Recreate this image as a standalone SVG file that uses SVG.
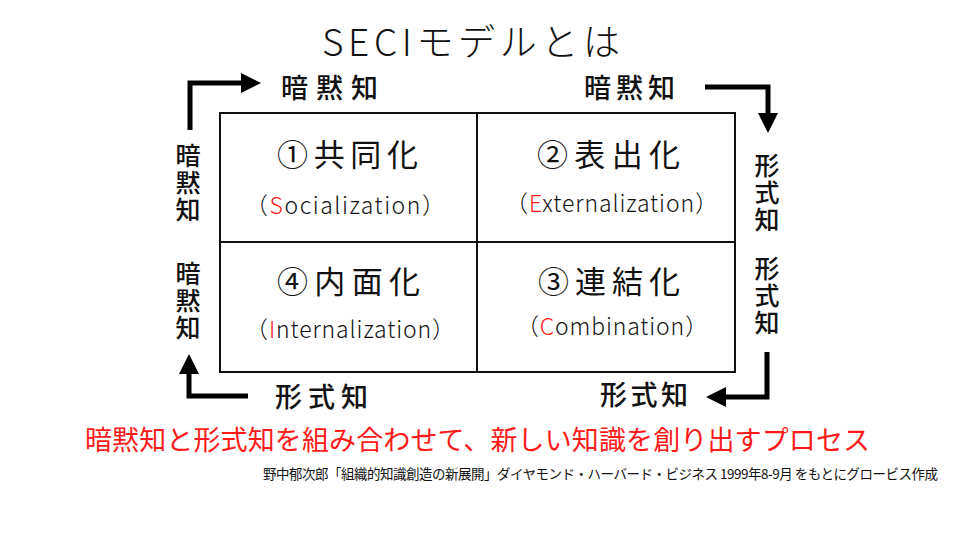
<svg xmlns="http://www.w3.org/2000/svg" width="960" height="540" viewBox="0 0 960 540">
<style>
text { font-family: "Noto Sans CJK JP", "Noto Sans", sans-serif; fill: #111; }
.title { font-size: 37px; font-weight: 300; }
.lbl { font-size: 27px; font-weight: 500; }
.vl { font-size: 25px; font-weight: 500; writing-mode: vertical-rl; letter-spacing: 2px; }
.q { font-size: 31px; font-weight: 400; }
.en { font-size: 23px; font-weight: 300; }
.red { fill: #ff1a1a; }
.msg { font-size: 27px; fill: #ff1a1a; }
.cite { font-size: 13.5px; }
.arr { fill: none; stroke: #000; stroke-width: 5; stroke-linejoin: miter; }
.box { fill: #fff; stroke: #111; stroke-width: 2; }
</style>
<defs>
<marker id="ah" viewBox="0 0 10 10" refX="2" refY="5" markerWidth="4" markerHeight="4.2" orient="auto" markerUnits="strokeWidth">
<path d="M0,0 L10,5 L0,10 z" fill="#000"/>
</marker>
</defs>
<rect width="960" height="540" fill="#fff"/>
<text class="title" x="322" y="56" textLength="298" lengthAdjust="spacing">SECIモデルとは</text>

<g id="matrix">
<rect class="box" x="220" y="113" width="515" height="259"/>
<line x1="477" y1="113" x2="477" y2="372" stroke="#111" stroke-width="2"/>
<line x1="220" y1="242" x2="735" y2="242" stroke="#111" stroke-width="2"/>
</g>

<g id="q1">
<text class="q" x="277" y="166" textLength="141" lengthAdjust="spacing">①共同化</text>
<text class="en" x="245" y="214" textLength="200" lengthAdjust="spacing">（<tspan class="red">S</tspan>ocialization）</text>
</g>
<g id="q2">
<text class="q" x="537" y="166" textLength="143" lengthAdjust="spacing">②表出化</text>
<text class="en" x="505" y="212" textLength="213" lengthAdjust="spacing">（<tspan class="red">E</tspan>xternalization）</text>
</g>
<g id="q4">
<text class="q" x="277" y="293" textLength="143" lengthAdjust="spacing">④内面化</text>
<text class="en" x="245" y="338" textLength="210" lengthAdjust="spacing">（<tspan class="red">I</tspan>nternalization）</text>
</g>
<g id="q3">
<text class="q" x="538" y="293" textLength="142" lengthAdjust="spacing">③連結化</text>
<text class="en" x="516" y="335" textLength="192" lengthAdjust="spacing">（<tspan class="red">C</tspan>ombination）</text>
</g>

<g id="labels">
<text class="lbl" x="281" y="98" textLength="97" lengthAdjust="spacing">暗黙知</text>
<text class="lbl" x="584" y="98" textLength="91" lengthAdjust="spacing">暗黙知</text>
<text class="lbl" x="275" y="407" textLength="93" lengthAdjust="spacing">形式知</text>
<text class="lbl" x="600" y="405" textLength="88" lengthAdjust="spacing">形式知</text>
<text class="vl" x="188" y="143">暗黙知</text>
<text class="vl" x="188" y="261">暗黙知</text>
<text class="vl" x="767" y="153">形式知</text>
<text class="vl" x="767" y="256">形式知</text>
</g>

<g id="connectors">
<path class="arr" d="M190,130 L190,83 L245,83" marker-end="url(#ah)"/>
<path class="arr" d="M705,87 L768,87 L768,117" marker-end="url(#ah)"/>
<path class="arr" d="M767,352 L767,397 L722,397" marker-end="url(#ah)"/>
<path class="arr" d="M248,396 L189,396 L189,370" marker-end="url(#ah)"/>
</g>

<text class="msg" x="85" y="450" textLength="785" lengthAdjust="spacing">暗黙知と形式知を組み合わせて、新しい知識を創り出すプロセス</text>
<text class="cite" x="263" y="479" textLength="675" lengthAdjust="spacing">野中郁次郎「組織的知識創造の新展開」ダイヤモンド・ハーバード・ビジネス 1999年8-9月 をもとにグロービス作成</text>
</svg>
